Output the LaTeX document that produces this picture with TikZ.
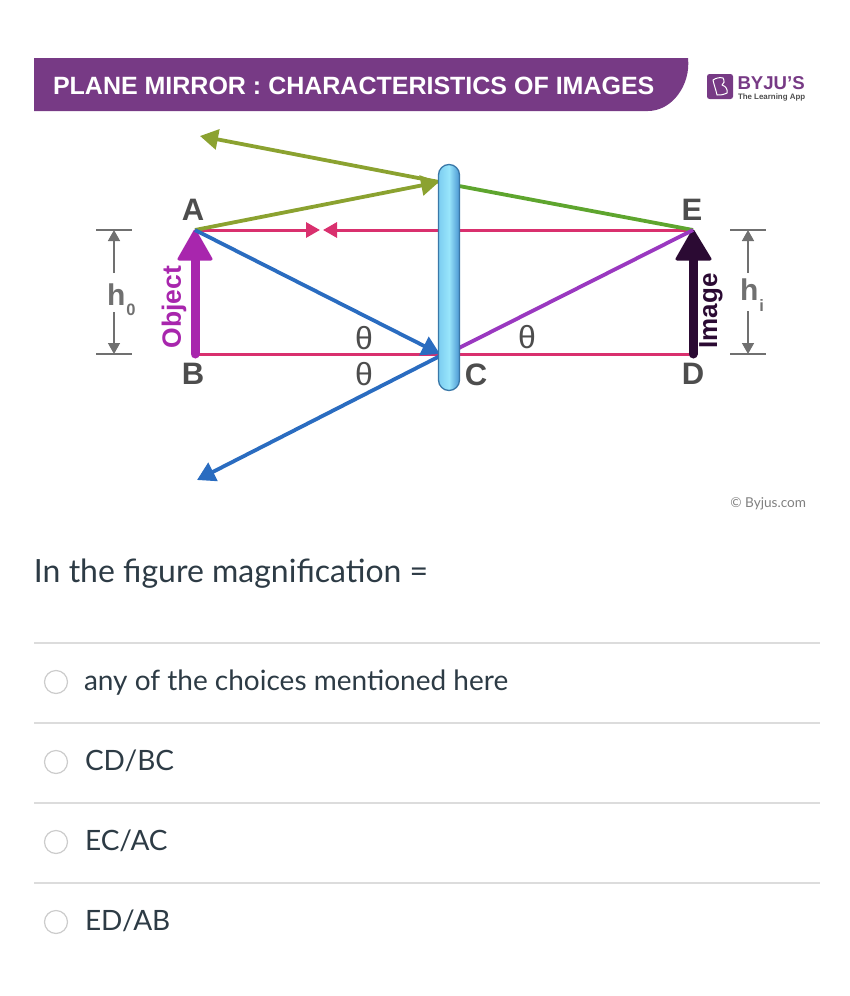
\documentclass[tikz,border=0pt]{standalone}
\usepackage{fontspec}
\setmainfont{Liberation Sans}
\newfontfamily\latofont{Lato}
\usetikzlibrary{arrows.meta}
\definecolor{bannerc}{HTML}{773A85}
\definecolor{olivec}{HTML}{8BA230}
\definecolor{magc}{HTML}{A826AD}
\definecolor{bluec}{HTML}{2A6CC0}
\definecolor{pinkc}{HTML}{D9306E}
\definecolor{greenc}{HTML}{5EA52E}
\definecolor{purpc}{HTML}{9A38C0}
\definecolor{darkc}{HTML}{2B0A33}
\definecolor{greyc}{HTML}{4D4D4D}
\definecolor{dimc}{HTML}{707070}
\definecolor{rulec}{HTML}{DCDCDC}
\definecolor{textc}{HTML}{2D3B45}
\definecolor{mirL}{HTML}{7CCDF0}
\definecolor{mirM}{HTML}{98E5FB}
\definecolor{mirR}{HTML}{4A96D2}
\definecolor{mirB}{HTML}{3A78A8}
\tikzset{
  txt/.style={inner sep=0pt,outer sep=0pt},
  pt/.style={txt,font=\fontsize{31}{31}\selectfont\bfseries,text=greyc},
  thetal/.style={txt,font=\fontsize{32}{32}\selectfont,text=greyc},
  ray/.style={line width=3.8pt},
  head/.style={-{Triangle[length=18pt,width=20pt]}},
  pinkl/.style={line width=3pt,draw=pinkc},
  shaft/.style={line width=9pt,line cap=round},
  bighead/.style={line width=3pt,line join=round},
  dimline/.style={line width=1.5pt,draw=dimc},
  dimarrow/.style={line width=1.5pt,draw=dimc,-{Triangle[length=11pt,width=12pt]}},
  dimlabel/.style={txt,text=dimc,font=\fontsize{30}{30}\selectfont\bfseries},
  rulel/.style={line width=2pt,draw=rulec},
  radio/.style={circle,draw=black!20,line width=1.2pt,fill=white,minimum size=23pt,inner sep=0pt},
  answer/.style={txt,anchor=base west,text=textc,font=\fontsize{28}{28}\selectfont\latofont},
}
\begin{document}
\begin{tikzpicture}[x=1pt,y=-1pt]
\useasboundingbox (0,0) rectangle (850,996);
% banner
\fill[bannerc] (34,58) -- (688,58) .. controls (691,85) and (672,111) .. (648,111) -- (34,111) -- cycle;
\node[txt,anchor=base west,text=white,font=\fontsize{25}{25}\selectfont\bfseries] (title) at (53,94.5) {PLANE MIRROR : CHARACTERISTICS OF IMAGES};
% logo
\node[draw=none,fill=bannerc,rounded corners=2.5pt,minimum width=26pt,minimum height=25pt,inner sep=0pt] (logo) at (720,86.5) {};
\draw[white,line width=1pt,line join=round] (713,80) .. controls (716,78) and (720,77) .. (723,78) .. controls (725,81) and (724,84) .. (722,85) .. controls (726,86) and (728,90) .. (727,93) .. controls (723,95) and (720,95) .. (717,95) .. controls (716,90) and (714,85) .. (713,80) -- cycle;
\node[txt,anchor=base west,text=bannerc,font=\fontsize{18.6}{18.6}\selectfont\bfseries] (byjus) at (737.5,89) {BYJU'S};
\node[txt,anchor=base west,text=greyc,font=\fontsize{7.9}{7.9}\selectfont\bfseries] (app) at (738,99) {The Learning App};
% coordinates
\coordinate (A) at (195,230);
\coordinate (B) at (195,354);
\coordinate (E) at (693,230);
\coordinate (D) at (693,354);
\coordinate (G) at (439,182);
\coordinate (Gr) at (200,136);
\coordinate (GR) at (459,186);
\coordinate (Cl) at (440,354);
\coordinate (Cr) at (459,348);
\coordinate (Cb) at (440,356);
\coordinate (Bl) at (197,480);
\coordinate (m1) at (320,230);
\coordinate (m2) at (323,230);
% pink lines
\draw[pinkl] (B) -- (D);
\draw[pinkl,-{Triangle[length=14pt,width=15pt]}] (A) -- (m1);
\draw[pinkl,-{Triangle[length=14pt,width=15pt]}] (E) -- (m2);
% object and image
\draw[shaft,draw=magc] (B) -- (195,255);
\fill[magc,draw=magc,bighead] (195,231) -- (179,259) -- (211,259) -- cycle;
\draw[shaft,draw=darkc] (D) -- (693,255);
\fill[darkc,draw=darkc,bighead] (693,231) -- (677,259) -- (710,259) -- cycle;
% rays
\draw[ray,draw=olivec,fill=olivec,head] (A) -- (G);
\draw[ray,draw=olivec,fill=olivec,head] (G) -- (Gr);
\draw[ray,draw=greenc] (GR) -- (E);
\draw[ray,draw=purpc] (Cr) -- (E);
\draw[ray,draw=bluec,fill=bluec,head] (A) -- (Cl);
\draw[ray,draw=bluec,fill=bluec,head] (Cb) -- (Bl);
% mirror
\node[rectangle,rounded corners=10.5pt,minimum width=21pt,minimum height=226pt,inner sep=0pt,draw=mirB,line width=1.3pt,left color=mirL,right color=mirR,middle color=mirM] (mirror) at (449,277.5) {};
% labels
\node[pt] (lA) at (193,210) {A};
\node[pt] (lB) at (193,374) {B};
\node[pt] (lC) at (476,374.5) {C};
\node[pt] (lD) at (693,374) {D};
\node[pt] (lE) at (692,209.5) {E};
\node[thetal] (t1) at (364,338) {θ};
\node[thetal] (t2) at (364,374) {θ};
\node[thetal] (t3) at (527,337) {θ};
\node[txt,rotate=90,text=magc,font=\fontsize{26.5}{26.5}\selectfont\bfseries] (obj) at (174,307) {Object};
\node[txt,rotate=90,text=darkc,font=\fontsize{26}{26}\selectfont\bfseries] (img) at (711,311) {Image};
% dimensions
\coordinate (L1a) at (96,230); \coordinate (L1b) at (132,230);
\coordinate (L2a) at (96,354); \coordinate (L2b) at (132,354);
\coordinate (R1a) at (730,230); \coordinate (R1b) at (766,230);
\coordinate (R2a) at (730,354); \coordinate (R2b) at (766,354);
\coordinate (Lt) at (114,230); \coordinate (Lg1) at (114,273); \coordinate (Lg2) at (114,312); \coordinate (Lb) at (114,354);
\coordinate (Rt) at (748,230); \coordinate (Rg1) at (748,273); \coordinate (Rg2) at (748,311); \coordinate (Rb) at (748,354);
\foreach \p/\q in {L1a/L1b,L2a/L2b,R1a/R1b,R2a/R2b} \draw[dimline] (\p) -- (\q);
\draw[dimarrow,fill=dimc] (Lg1) -- (Lt);
\draw[dimarrow,fill=dimc] (Lg2) -- (Lb);
\draw[dimarrow,fill=dimc] (Rg1) -- (Rt);
\draw[dimarrow,fill=dimc] (Rg2) -- (Rb);
\node[dimlabel,anchor=base west] (ho) at (107,305) {h\kern1pt\raisebox{-10pt}{\fontsize{16.5}{16.5}\selectfont 0}};
\node[dimlabel,anchor=base west] (hi) at (740,300) {h\kern1pt\raisebox{-11pt}{\fontsize{16.5}{16.5}\selectfont i}};
% credit
\node[txt,anchor=base east,text=black!50,font=\fontsize{13.6}{13.6}\selectfont\latofont] (credit) at (806,507) {© Byjus.com};
% question
\node[txt,anchor=base west,text=textc,font=\fontsize{32}{32}\selectfont\latofont] (q) at (34,582) {In the figure magnification =};
\foreach \n/\y in {r1/643,r2/723,r3/803,r4/883} {
  \coordinate (\n a) at (34,\y); \coordinate (\n b) at (820,\y);
  \draw[rulel] (\n a) -- (\n b);
}
\node[radio] (c1) at (56,682) {};
\node[radio] (c2) at (56,762) {};
\node[radio] (c3) at (56,842) {};
\node[radio] (c4) at (56,922) {};
\node[answer] (a1) at (84,690) {any of the choices mentioned here};
\node[answer] (a2) at (85,770) {CD/BC};
\node[answer] (a3) at (85,850) {EC/AC};
\node[answer] (a4) at (85,930) {ED/AB};
\end{tikzpicture}
\end{document}
